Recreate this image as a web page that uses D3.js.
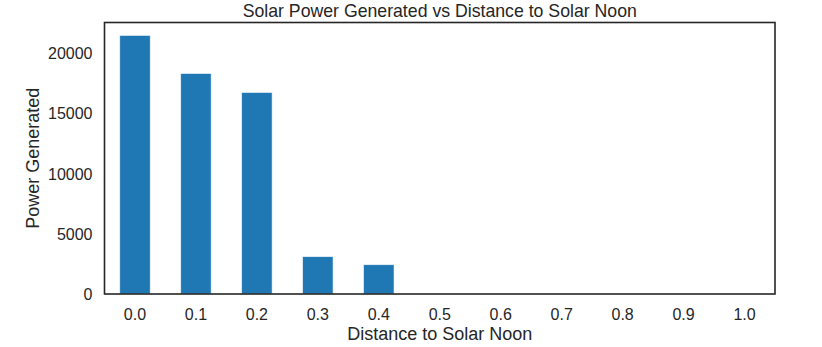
<!DOCTYPE html>
<html>
<head>
<meta charset="utf-8">
<script src="https://cdn.jsdelivr.net/npm/d3@7"></script>
<style>
  html, body { margin: 0; padding: 0; background: #fff; }
  svg { display: block; font-family: "Liberation Sans", Arial, sans-serif; }
</style>
</head>
<body>
<svg id="chart" width="822" height="347"></svg>
<script>
// Distance to solar noon buckets and total power generated in each
const categories = ["0.0", "0.1", "0.2", "0.3", "0.4", "0.5", "0.6", "0.7", "0.8", "0.9", "1.0"];
const powerValues = [21530, 18360, 16780, 3110, 2440, 0, 0, 0, 0, 0, 0];
const yTicks = [0, 5000, 10000, 15000, 20000];

const svg = d3.select("#chart");
const margin = { left: 104.5, right: 47, top: 22.5, bottom: 53 };
const W = 822, H = 347;
const x0 = margin.left, x1 = W - margin.right;
const y0 = H - margin.bottom, y1 = margin.top;

const x = d3.scaleBand()
  .domain(categories)
  .range([x0, x1])
  .paddingInner(0.5)
  .paddingOuter(0.25);

const y = d3.scaleLinear()
  .domain([0, d3.max(powerValues) * 1.05])
  .range([y0, y1]);

const textColor = "#262626";

// bars
svg.append("g")
  .selectAll("rect")
  .data(categories.map((c, i) => ({ c, v: powerValues[i] })))
  .join("rect")
  .attr("x", d => x(d.c))
  .attr("width", x.bandwidth())
  .attr("y", d => y(d.v))
  .attr("height", d => y0 - y(d.v))
  .attr("fill", "#1f77b4")
  .attr("stroke", "#ffffff")
  .attr("stroke-opacity", 0.7)
  .attr("stroke-width", 0.8);

// x axis labels
const xAxis = svg.append("g")
  .attr("transform", `translate(0,${y0})`)
  .call(d3.axisBottom(x).tickSize(0).tickPadding(15));
xAxis.select(".domain").remove();
xAxis.selectAll("text")
  .attr("fill", textColor)
  .style("font-size", "16px");

// y axis labels
const yAxis = svg.append("g")
  .attr("transform", `translate(${x0},0)`)
  .call(d3.axisLeft(y).tickValues(yTicks).tickSize(0).tickPadding(12).tickFormat(d3.format("d")));
yAxis.select(".domain").remove();
yAxis.selectAll("text")
  .attr("fill", textColor)
  .style("font-size", "16px");

// plot frame
svg.append("rect")
  .attr("x", x0)
  .attr("y", y1)
  .attr("width", x1 - x0)
  .attr("height", y0 - y1)
  .attr("fill", "none")
  .attr("stroke", textColor)
  .attr("stroke-width", 1.6);

// title and axis titles
svg.append("text")
  .attr("x", (x0 + x1) / 2)
  .attr("y", 17)
  .attr("text-anchor", "middle")
  .attr("fill", textColor)
  .style("font-size", "17.7px")
  .text("Solar Power Generated vs Distance to Solar Noon");

svg.append("text")
  .attr("x", (x0 + x1) / 2)
  .attr("y", 340)
  .attr("text-anchor", "middle")
  .attr("fill", textColor)
  .style("font-size", "18px")
  .text("Distance to Solar Noon");

svg.append("text")
  .attr("transform", `translate(38.5,${(y0 + y1) / 2}) rotate(-90)`)
  .attr("text-anchor", "middle")
  .attr("fill", textColor)
  .style("font-size", "18px")
  .text("Power Generated");
</script>
</body>
</html>
